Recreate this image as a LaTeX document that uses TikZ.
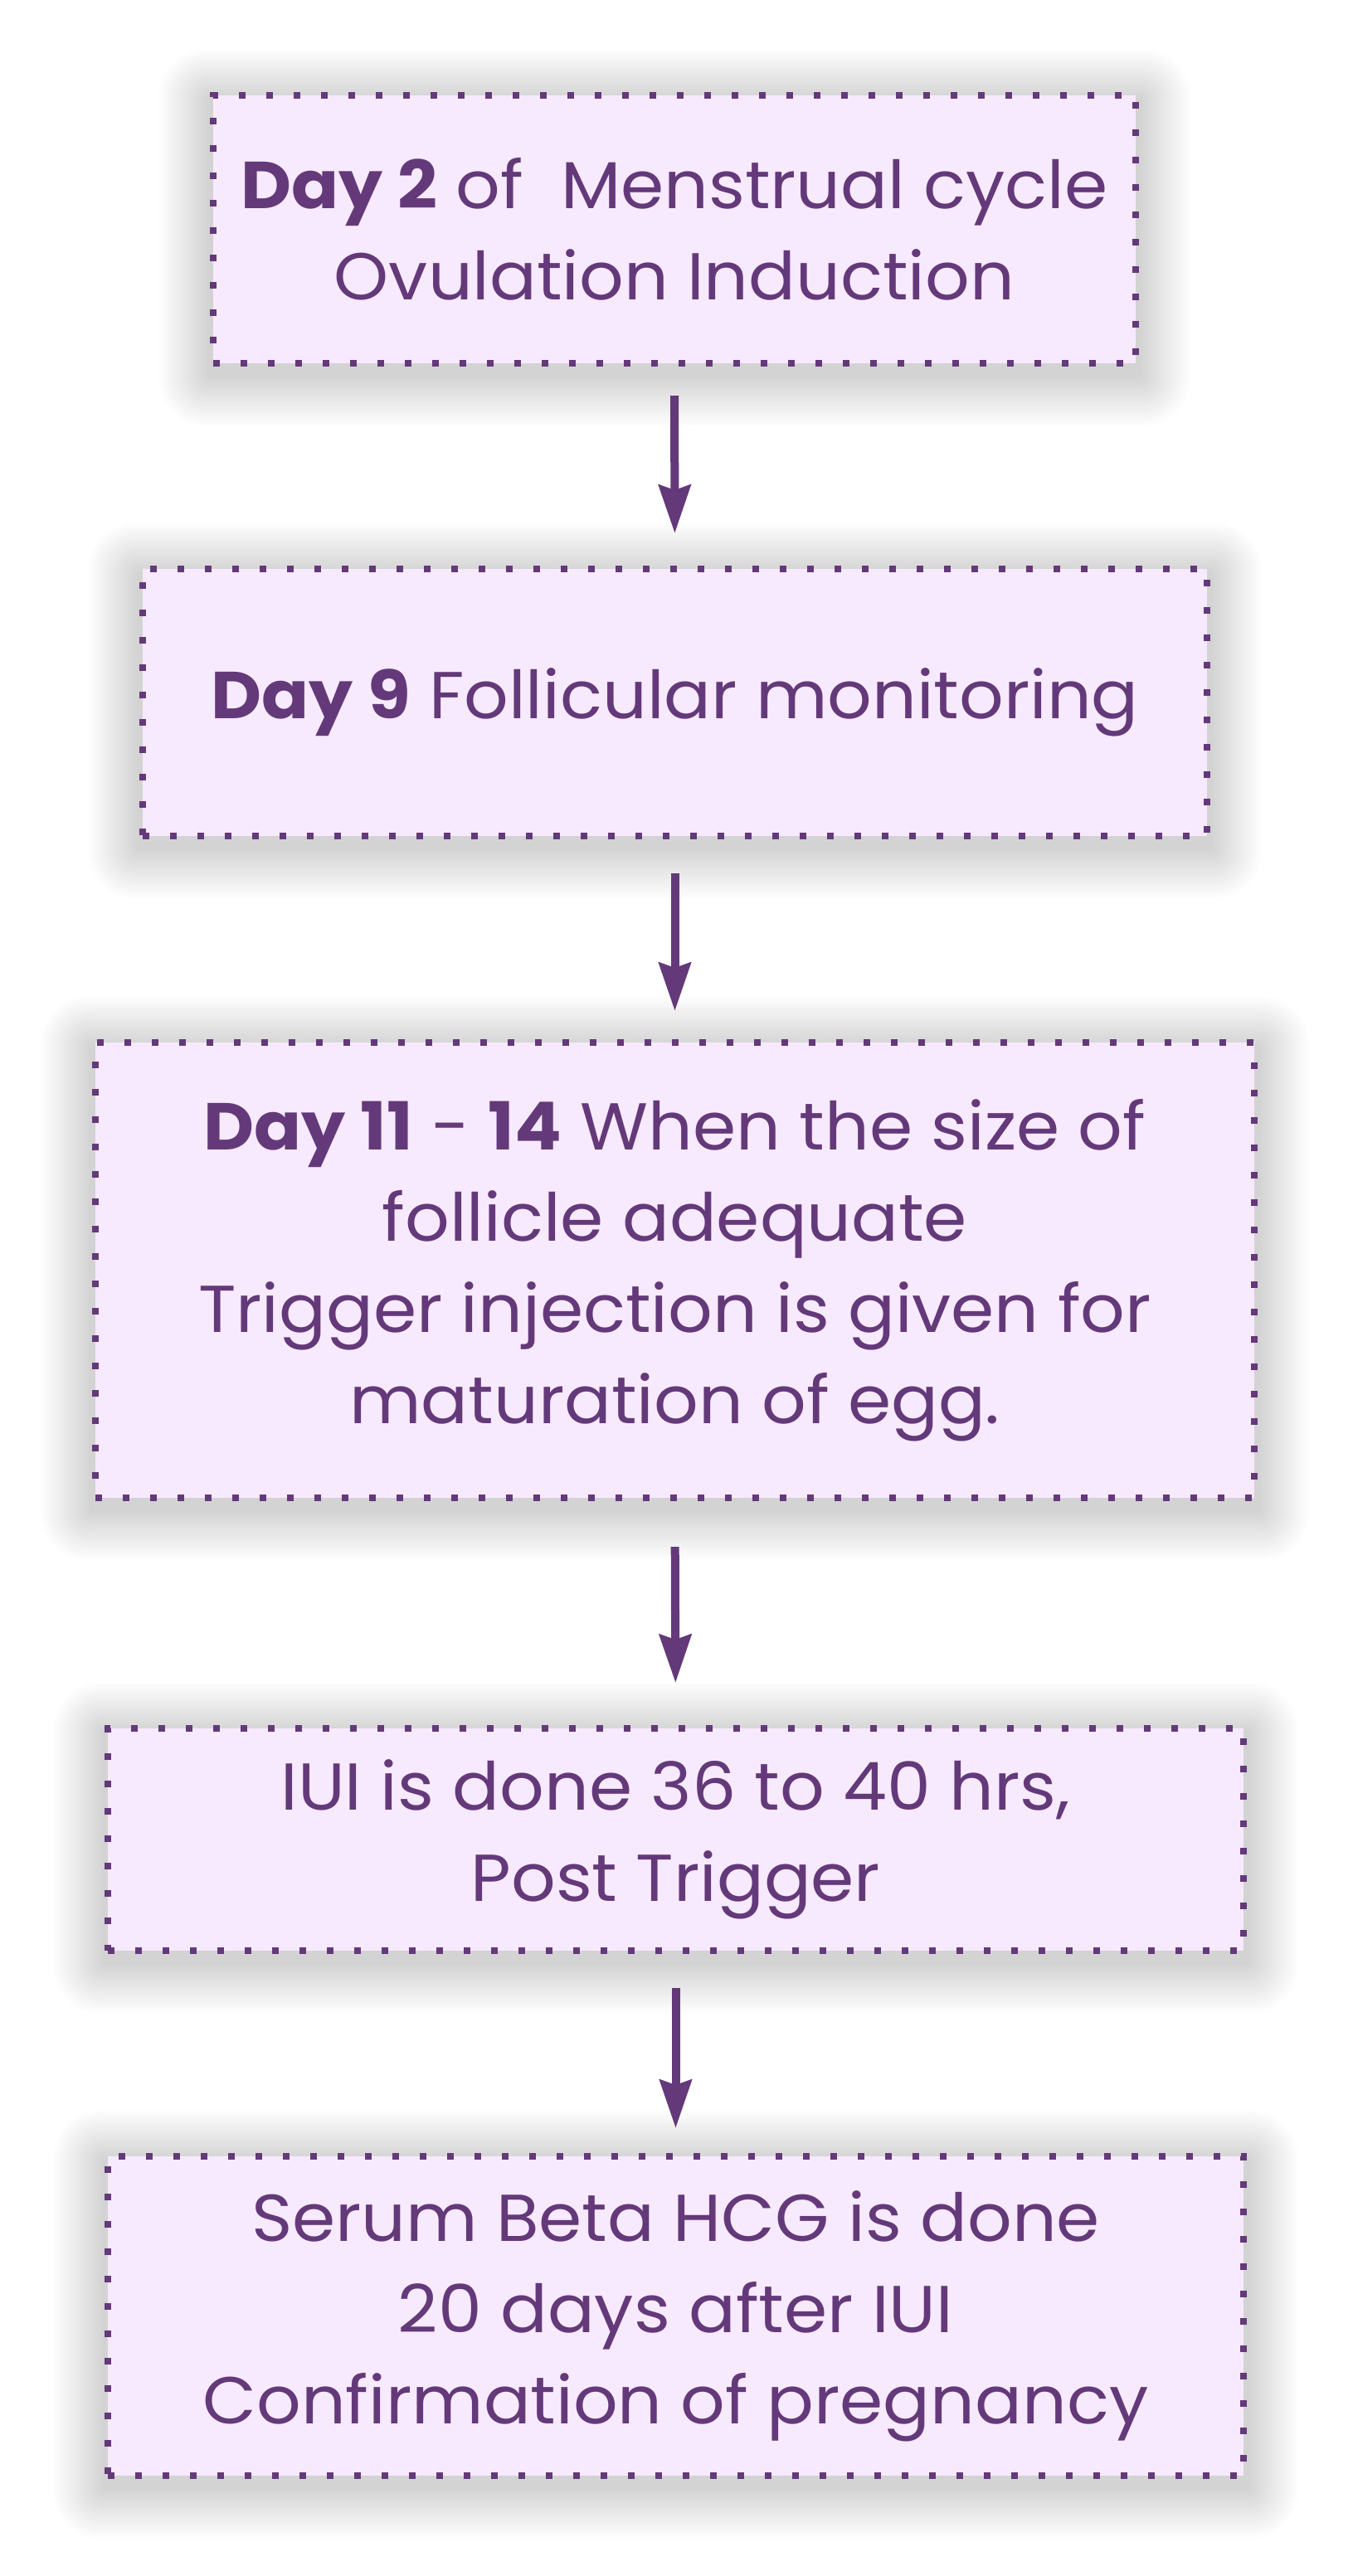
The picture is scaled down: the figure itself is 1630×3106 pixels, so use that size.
\documentclass[tikz,border=0pt]{standalone}
\usepackage{fontspec}
\setmainfont{Poppins}[FakeStretch=1.05]
\usetikzlibrary{arrows.meta,backgrounds}
\definecolor{ivfpurple}{RGB}{100,57,122}
\definecolor{ivffill}{RGB}{247,234,254}
\definecolor{ivfshadow}{RGB}{60,60,60}
\tikzset{
  stepbox/.style={draw=ivfpurple, fill=ivffill, line width=4pt,
    dash pattern=on 4pt off 12.5pt, rectangle, align=center,
    text=ivfpurple, inner sep=0pt,
    font=\fontsize{40}{55}\selectfont},
  shadowlayer/.style={fill=ivfshadow, fill opacity=0.009},
  flowarrow/.style={draw=ivfpurple, line width=5pt,
    -{Stealth[length=29pt,width=19pt,inset=3pt]}}
}
\begin{document}
\begin{tikzpicture}[x=0.5pt,y=-0.5pt]
\useasboundingbox (0,0) rectangle (1630,3106);
\node[stepbox, minimum width=556pt, minimum height=161.5pt] (b1) at (813,276.5)
  {\textbf{Day 2} of\ \ Menstrual cycle\\Ovulation Induction};
\node[stepbox, minimum width=641.5pt, minimum height=161pt] (b2) at (813.5,847)
  {\textbf{Day 9} Follicular monitoring};
\node[stepbox, minimum width=698.5pt, minimum height=274.5pt] (b3) at (813.5,1531.5)
  {\textbf{Day 11} - \textbf{14} When the size of\\follicle adequate\\Trigger injection is given for\\maturation of egg.};
\node[stepbox, minimum width=684.5pt, minimum height=134pt] (b4) at (814.5,2218)
  {IUI is done 36 to 40 hrs,\\Post Trigger};
\node[stepbox, minimum width=684.5pt, minimum height=192.5pt] (b5) at (814.5,2792.5)
  {Serum Beta HCG is done\\20 days after IUI\\Confirmation of pregnancy};
\begin{scope}[on background layer]
  \fill[white] (0,0) rectangle (1630,3106);
  \foreach \n in {b1,b2,b3,b4,b5}{
    \foreach \i in {1,...,22}{
      \fill[shadowlayer, rounded corners=\i*1.3pt]
        ([shift={(-\i*1.4pt,\i*1.4pt-5pt)}]\n.north west) rectangle
        ([shift={(\i*1.4pt,-\i*1.4pt-5pt)}]\n.south east);
    }
  }
\end{scope}
\draw[flowarrow, shorten <=17.5pt, shorten >=19.5pt] (b1.south) -- (b2.north);
\draw[flowarrow, shorten <=20.5pt, shorten >=17pt] (b2.south) -- (b3.north);
\draw[flowarrow, shorten <=27.5pt, shorten >=25.5pt] (b3.south) -- (b4.north);
\draw[flowarrow, shorten <=20.5pt, shorten >=15pt] (b4.south) -- (b5.north);
\end{tikzpicture}
\end{document}
